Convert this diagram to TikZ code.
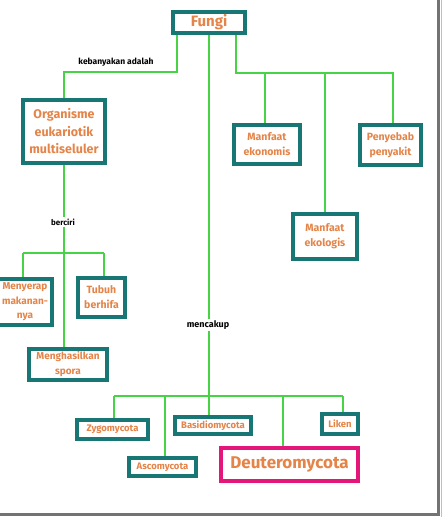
\documentclass[tikz,border=0pt]{standalone}
\usepackage{fontspec}
\setmainfont{Fira Sans}
\usepackage{tikz}

\definecolor{hijau}{RGB}{70,212,70}
\definecolor{tosca}{RGB}{24,118,116}
\definecolor{oranye}{RGB}{228,132,72}
\definecolor{magenta}{RGB}{228,22,122}

\tikzset{
  konsep/.style={draw=tosca, line width=3.6pt, fill=white, text=oranye,
    font=\bfseries, align=center, inner sep=1pt},
  utama/.style={konsep, draw=magenta},
  garis/.style={draw=hijau, line width=1.8pt},
  kata/.style={fill=white, font=\bfseries, text=black, inner sep=1.5pt}
}

\begin{document}
\begin{tikzpicture}[x=1pt, y=-1pt]

  % --- bingkai ---
  \useasboundingbox (0,0) rectangle (442,517);
  \fill[white] (0,0) rectangle (442,517);
  \draw[black!55, line width=2.5pt] (438.5,0) -- (438.5,514.5) -- (0,514.5);
  \draw[black!25, line width=1pt] (441,0) -- (441,517) -- (0,517);

  % --- konsep ---
  \node[konsep, minimum width=72, minimum height=21, font=\bfseries\fontsize{15}{16}\selectfont]
    (fungi) at (209,22.5) {Fungi};
  \node[konsep, minimum width=82, minimum height=63, font=\bfseries\fontsize{12.5}{17.5}\selectfont]
    (org) at (64,131.5) {Organisme\\eukariotik\\multiseluler};
  \node[konsep, minimum width=66, minimum height=39, font=\bfseries\fontsize{10.5}{15}\selectfont]
    (ekonomi) at (267,144.5) {Manfaat\\ekonomis};
  \node[konsep, minimum width=61, minimum height=40, font=\bfseries\fontsize{10.5}{15}\selectfont]
    (penyakit) at (390.5,145) {Penyebab\\penyakit};
  \node[konsep, minimum width=64, minimum height=45, font=\bfseries\fontsize{10.5}{15}\selectfont]
    (ekologi) at (325,236.5) {Manfaat\\ekologis};

  \node[konsep, minimum width=54, minimum height=46, font=\bfseries\fontsize{10}{14.5}\selectfont]
    (serap) at (25,302) {Menyerap\\makanan-\\nya};
  \node[konsep, minimum width=47, minimum height=39, font=\bfseries\fontsize{10.5}{15}\selectfont]
    (hifa) at (101.5,297.5) {Tubuh\\berhifa};
  \node[konsep, minimum width=78, minimum height=31, font=\bfseries\fontsize{10}{15}\selectfont]
    (spora) at (68,364.5) {Menghasilkan\\spora};

  \node[konsep, minimum width=71, minimum height=19, font=\bfseries\fontsize{9.5}{11}\selectfont]
    (zygo) at (112.5,429.5) {Zygomycota};
  \node[konsep, minimum width=76, minimum height=17, font=\bfseries\fontsize{9.5}{11}\selectfont]
    (basidio) at (213,425.5) {Basidiomycota};
  \node[konsep, minimum width=36, minimum height=20, font=\bfseries\fontsize{9.5}{11}\selectfont]
    (liken) at (340,424) {Liken};
  \node[konsep, minimum width=67, minimum height=18, font=\bfseries\fontsize{9.5}{11}\selectfont]
    (asco) at (162.5,467) {Ascomycota};
  \node[utama, minimum width=137, minimum height=33, font=\bfseries\fontsize{17}{19}\selectfont]
    (deutero) at (289.5,464.5) {Deuteromycota};

  % --- titik cabang ---
  \coordinate (kiri) at (177,72);
  \coordinate (kanan) at (236,73);
  \coordinate (c1) at (265,73);
  \coordinate (c2) at (325,73);
  \coordinate (c3) at (393,73);
  \coordinate (ciri) at (64,253);
  \coordinate (d1) at (23,253);
  \coordinate (d2) at (104,253);
  \coordinate (bawah) at (209,396);
  \coordinate (b1) at (114,396);
  \coordinate (b2) at (165,396);
  \coordinate (b4) at (283,396);
  \coordinate (b5) at (343,396);

  % --- garis penghubung ---
  \draw[garis] (fungi.south -| kiri) -- (kiri) -| (org.north);
  \draw[garis] (fungi.south -| kanan) -- (kanan) -- (c3) -- (c3 |- penyakit.north);
  \draw[garis] (c1) -- (c1 |- ekonomi.north);
  \draw[garis] (c2) -- (c2 |- ekologi.north);

  \draw[garis] (org.south) -- (ciri) -- (ciri |- spora.north);
  \draw[garis] (d1) -- (d2);
  \draw[garis] (d1) -- (d1 |- serap.north);
  \draw[garis] (d2) -- (d2 |- hifa.north);

  \draw[garis] (fungi.south) -- (bawah);
  \draw[garis] (b1) -- (b5);
  \draw[garis] (b1) -- (b1 |- zygo.north);
  \draw[garis] (b2) -- (b2 |- asco.north);
  \draw[garis] (bawah) -- (basidio.north -| bawah);
  \draw[garis] (b4) -- (b4 |- deutero.north);
  \draw[garis] (b5) -- (b5 |- liken.north);

  % --- kata penghubung ---
  \node[kata, fill=none, font=\bfseries\fontsize{8.5}{10}\selectfont] (banyak) at (116,62) {kebanyakan adalah};
  \node[kata, font=\bfseries\fontsize{8}{10}\selectfont] (berciri) at (63,222) {berciri};
  \node[kata, font=\bfseries\fontsize{9}{10}\selectfont] (cakup) at (208,325) {mencakup};

\end{tikzpicture}
\end{document}
